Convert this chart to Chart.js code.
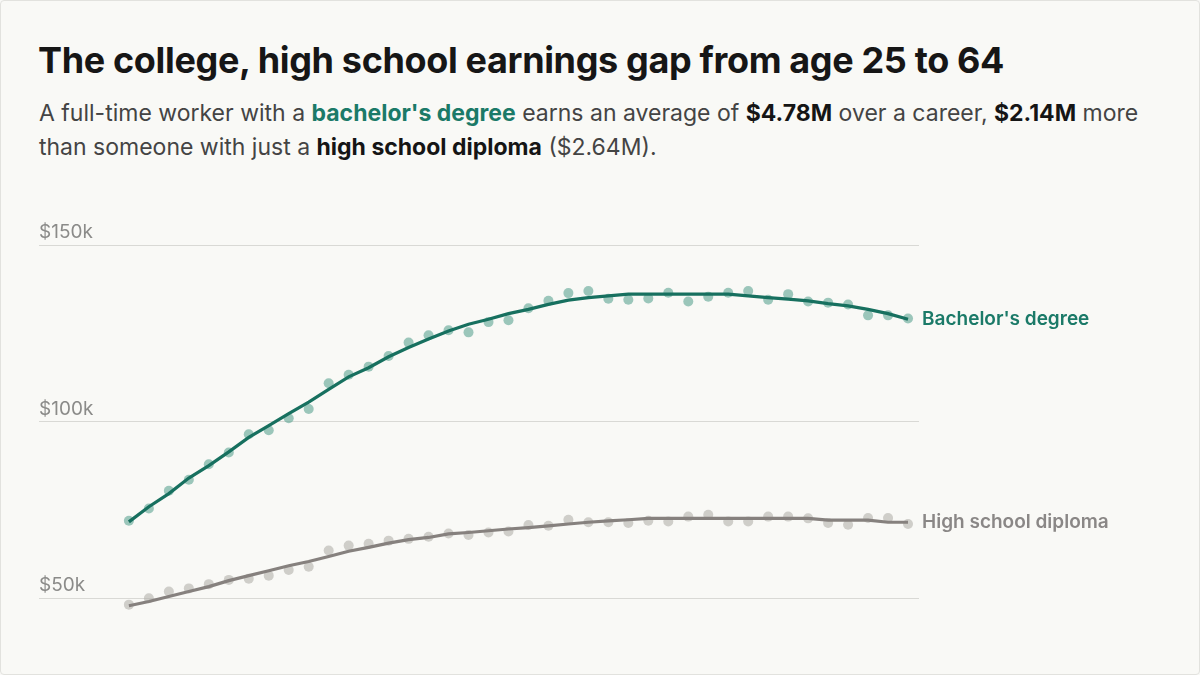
<!DOCTYPE html>
<html>
<head>
<meta charset="utf-8">
<script src="https://cdn.jsdelivr.net/npm/chart.js@4.4.1/dist/chart.umd.min.js"></script>
<style>
  html, body { margin: 0; padding: 0; background: #f9f9f6; }
  .card {
    position: relative;
    width: 1198px; height: 673px;
    border: 1px solid #e2e2de;
    border-radius: 4px;
    background: #f9f9f6;
    font-family: Inter, "Noto Sans", sans-serif;
    overflow: hidden;
  }
  h1 {
    position: absolute; left: 37px; top: 37px; margin: 0;
    font-size: 36px; font-weight: 700; color: #161616;
    letter-spacing: -0.35px; white-space: nowrap;
  }
  .sub {
    position: absolute; left: 38px; top: 95px; width: 1130px; margin: 0;
    font-size: 23px; line-height: 34px; color: #444;
    font-weight: 400; letter-spacing: 0px;
  }
  .sub b { font-weight: 700; color: #151515; }
  .sub b.teal { color: #1b7a68; }
  #wrap { position: absolute; left: 0; top: 180px; }
</style>
</head>
<body>
<div class="card">
  <h1>The college, high school earnings gap from age 25 to 64</h1>
  <p class="sub">A full-time worker with a <b class="teal">bachelor's degree</b> earns an average of <b>$4.78M</b> over a career, <b>$2.14M</b> more than someone with just a <b>high school diploma</b> ($2.64M).</p>
  <div id="wrap"><canvas id="grafico" width="1200" height="495"></canvas></div>
</div>
<script>
// ages on the x axis
const ages = [25, 26, 27, 28, 29, 30, 31, 32, 33, 34, 35, 36, 37, 38, 39, 40, 41, 42, 43, 44,
              45, 46, 47, 48, 49, 50, 51, 52, 53, 54, 55, 56, 57, 58, 59, 60, 61, 62, 63, 64];

// yearly earnings, thousands of dollars
const bachelorDots = [72.0, 75.5, 80.5, 83.6, 88.0, 91.3, 96.5, 97.6, 101.0, 103.6,
                      110.9, 113.3, 115.6, 118.6, 122.4, 124.5, 125.9, 125.3, 128.2, 128.7,
                      132.1, 134.2, 136.4, 137.0, 134.8, 134.5, 134.9, 136.5, 134.0, 135.4,
                      136.5, 137.0, 134.5, 136.1, 134.0, 133.7, 133.2, 130.1, 130.1, 129.2];
const bachelorTrend = [71.7, 76.0, 79.7, 84.1, 87.6, 91.5, 95.6, 98.9, 102.3, 105.6,
                       109.2, 112.7, 115.3, 118.4, 121.0, 123.4, 125.7, 127.6, 129.0, 130.6,
                       131.8, 133.2, 134.4, 135.1, 135.6, 136.1, 136.1, 136.1, 136.1, 136.1,
                       136.1, 135.6, 135.1, 134.7, 134.2, 133.4, 132.8, 131.8, 130.6, 129.0];
const highSchoolDots = [48.3, 50.1, 52.0, 52.9, 54.1, 55.3, 55.6, 56.5, 58.1, 59.0,
                        63.6, 65.0, 65.5, 66.4, 66.9, 67.5, 68.4, 68.0, 68.7, 69.0,
                        70.8, 70.6, 72.3, 71.6, 71.6, 71.4, 72.0, 71.8, 73.2, 73.7,
                        71.8, 71.8, 73.2, 73.2, 72.7, 71.4, 70.9, 72.8, 72.8, 71.1];
const highSchoolTrend = [48.0, 49.2, 50.6, 52.0, 53.4, 55.1, 56.5, 57.9, 59.3, 60.5,
                         61.9, 63.4, 64.5, 65.7, 66.7, 67.3, 68.3, 68.7, 69.2, 69.7,
                         70.1, 70.6, 71.1, 71.6, 72.0, 72.3, 72.7, 72.7, 72.7, 72.7,
                         72.7, 72.7, 72.7, 72.7, 72.7, 72.2, 72.2, 72.2, 71.6, 71.6];

const yTicks = [50, 100, 150];
const seriesNames = ["Bachelor's degree", "High school diploma"];

const toPoints = (arr) => ages.map((a, i) => ({ x: a, y: arr[i] }));

// writes the series name just right of the last point of each trend line
const endLabels = {
    id: "endLabels",
    afterDatasetsDraw(chart) {
        const ctx = chart.ctx;
        chart.data.datasets.forEach((ds, i) => {
            if (!ds.endLabel) return;
            const pts = chart.getDatasetMeta(i).data;
            const last = pts[pts.length - 1];
            ctx.save();
            ctx.font = "600 19px Inter, 'Noto Sans', sans-serif";
            ctx.fillStyle = ds.labelColor;
            ctx.textAlign = "left";
            ctx.textBaseline = "middle";
            ctx.fillText(ds.endLabel, last.x + 14, last.y);
            ctx.restore();
        });
    },
};

function generateChart() {
    const info = {
        datasets: [
            {
                data: toPoints(bachelorTrend),
                borderColor: "#17705f",
                borderWidth: 3.2,
                pointRadius: 0,
                tension: 0,
                order: 1,
                endLabel: seriesNames[0],
                labelColor: "#1b7a68",
            },
            {
                data: toPoints(highSchoolTrend),
                borderColor: "#86817e",
                borderWidth: 3.2,
                pointRadius: 0,
                tension: 0,
                order: 2,
                endLabel: seriesNames[1],
                labelColor: "#8a8786",
            },
            {
                data: toPoints(bachelorDots),
                showLine: false,
                pointRadius: 5,
                pointBorderWidth: 0,
                pointBackgroundColor: "rgba(92, 163, 146, 0.6)",
                order: 3,
            },
            {
                data: toPoints(highSchoolDots),
                showLine: false,
                pointRadius: 5,
                pointBorderWidth: 0,
                pointBackgroundColor: "rgba(178, 176, 172, 0.6)",
                order: 4,
            },
        ],
    };
    const options = {
        responsive: false,
        animation: false,
        clip: false,
        layout: {
            padding: { top: 64, left: 38, right: 282, bottom: 42 },
        },
        scales: {
            x: {
                type: "linear",
                min: 20.5,
                max: 64.55,
                display: false,
            },
            y: {
                min: 40,
                max: 150,
                afterBuildTicks: (scale) => {
                    scale.ticks = yTicks.map((v) => ({ value: v }));
                },
                ticks: {
                    mirror: true,
                    padding: 0,
                    labelOffset: -13,
                    color: "#8b8b89",
                    font: { family: "Inter, 'Noto Sans', sans-serif", size: 19, weight: 400 },
                    callback: (v) => `$${v}k`,
                },
                grid: {
                    color: "#d9d9d5",
                    lineWidth: 1,
                    drawTicks: false,
                },
                border: { display: false },
            },
        },
        plugins: {
            legend: { display: false },
            tooltip: { enabled: false },
        },
    };
    const config = {
        type: "line",
        data: info,
        options,
        plugins: [endLabels],
    };
    new Chart(document.getElementById("grafico"), config);
}
generateChart();
</script>
</body>
</html>
